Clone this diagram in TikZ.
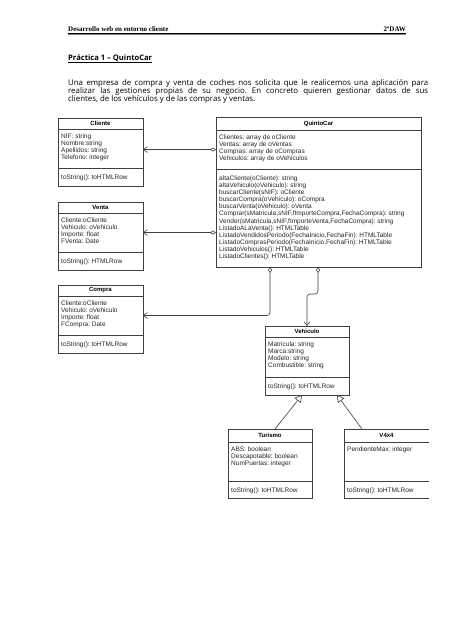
\documentclass[tikz,border=0pt]{standalone}
\usepackage{fontspec}
\setmainfont{Open Sans}
\newfontfamily\umlfont{Liberation Sans}
\newfontfamily\headfont{Liberation Serif}
\usetikzlibrary{positioning,arrows.meta}
\frenchspacing
\tikzset{
  compart/.style={draw=black!75, line width=0.6pt, inner sep=0pt, outer sep=0pt, minimum width=85pt, anchor=north west},
  openbox/.style={compart, draw=none},
  boxline/.style={draw=black!75, line width=0.6pt},
  classname/.style={font=\umlfont\bfseries\fontsize{6}{7}\selectfont},
  members/.style={font=\umlfont\fontsize{6.5}{7.1}\selectfont, text=black!85, align=left, inner sep=0pt, anchor=north west},
  para/.style={anchor=base west, inner sep=0pt, font=\fontsize{7.85}{8}\selectfont},
  assoc/.style={draw=black!75, line width=0.6pt, {Diamond[open,length=6pt,width=4pt]}-{Straight Barb[length=4pt,width=6pt]}},
  inherit/.style={draw=black!75, line width=0.6pt, -{Triangle[open,length=7pt,width=8pt]}},
}
\begin{document}
\begin{tikzpicture}[x=1pt,y=-1pt]
    \path[use as bounding box, fill=white] (0,0) rectangle (474,632);
    \path (68,31) node[anchor=base west, inner sep=0pt, font=\headfont\bfseries\fontsize{7}{8}\selectfont] (curso) {Desarrollo web en entorno cliente};
    \path (406,31) node[anchor=base east, inner sep=0pt, font=\headfont\bfseries\fontsize{7}{8}\selectfont] (grupo) {2ºDAW};
    \draw[black, line width=0.5pt] (68,33.3) -- (406,33.3);
    \draw[gray, line width=1pt] (68,34.7) -- (406,34.7);
    \path (68,60) node[para, font=\bfseries\fontsize{7.6}{8}\selectfont] (titulo) {\underline{Práctica 1 – QuintoCar}};
    \path (68,85.5) node[para] (linea1) {\makebox[360pt][s]{Una empresa de compra y venta de coches nos solicita que le realicemos una aplicación para}};
    \path (68,93.5) node[para] (linea2) {\makebox[360pt][s]{realizar las gestiones propias de su negocio. En concreto quieren gestionar datos de sus}};
    \path (68,101.5) node[para] (linea3) {clientes, de los vehículos y de las compras y ventas.};

    \path (58,118) node[compart, minimum height=11pt, classname] (cliente) {Cliente};
    \node[compart, minimum height=39pt, below=0pt of cliente] (cliente-at) {};
    \node[compart, minimum height=18pt, below=0pt of cliente-at] (cliente-op) {};
    \node[members, below right=4.3pt and 3pt of cliente-at.north west] (cliente-at-txt) {NIF: string\\Nombre:string\\Apellidos: string\\Telefono: integer};
    \node[members, below right=6.5pt and 3pt of cliente-op.north west] (cliente-op-txt) {toString(): toHTMLRow};

    \path (58,202) node[compart, minimum height=11pt, classname] (venta) {Venta};
    \node[compart, minimum height=39pt, below=0pt of venta] (venta-at) {};
    \node[compart, minimum height=18pt, below=0pt of venta-at] (venta-op) {};
    \node[members, below right=4.3pt and 3pt of venta-at.north west] (venta-at-txt) {Cliente:oCliente\\Vehiculo: oVehiculo\\Importe: float\\FVenta: Date};
    \node[members, below right=6.5pt and 3pt of venta-op.north west] (venta-op-txt) {toString(): HTMLRow};

    \path (58,285) node[compart, minimum height=11pt, classname] (compra) {Compra};
    \node[compart, minimum height=39pt, below=0pt of compra] (compra-at) {};
    \node[compart, minimum height=18pt, below=0pt of compra-at] (compra-op) {};
    \node[members, below right=4.3pt and 3pt of compra-at.north west] (compra-at-txt) {Cliente:oCliente\\Vehiculo: oVehiculo\\Importe: float\\FCompra: Date};
    \node[members, below right=6.5pt and 3pt of compra-op.north west] (compra-op-txt) {toString(): toHTMLRow};

    \path (216,117) node[compart, minimum width=205pt, minimum height=13pt, classname] (quintocar) {QuintoCar};
    \node[compart, minimum width=205pt, minimum height=39pt, below=0pt of quintocar] (quintocar-at) {};
    \node[compart, minimum width=205pt, minimum height=98pt, below=0pt of quintocar-at] (quintocar-op) {};
    \node[members, below right=4.3pt and 3pt of quintocar-at.north west] (quintocar-at-txt) {Clientes: array de oCliente\\Ventas: array de oVentas\\Compras: array de oCompras\\Vehiculos: array de oVehiculos};
    \node[members, below right=6.5pt and 3pt of quintocar-op.north west] (quintocar-op-txt) {altaCliente(oCliente): string\\altaVehiculo(oVehiculo): string\\buscarCliente(sNIF): oCliente\\buscarCompra(oVehiculo): oCompra\\buscarVenta(oVehiculo): oVenta\\Comprar(sMatricula,sNIF,fImporteCompra,FechaCompra): string\\Vender(sMatricula,sNIF,fImporteVenta,FechaCompra): string\\ListadoALaVenta(): HTMLTable\\ListadoVendidosPeriodo(FechaInicio,FechaFin): HTMLTable\\ListadoComprasPeriodo(FechaInicio,FechaFin): HTMLTable\\ListadoVehiculos(): HTMLTable\\ListadoClientes(): HTMLTable};

    \path (265,326) node[compart, minimum width=84pt, minimum height=11pt, classname] (vehiculo) {Vehiculo};
    \node[compart, minimum width=84pt, minimum height=40pt, below=0pt of vehiculo] (vehiculo-at) {};
    \node[compart, minimum width=84pt, minimum height=18pt, below=0pt of vehiculo-at] (vehiculo-op) {};
    \node[members, below right=4.3pt and 3pt of vehiculo-at.north west] (vehiculo-at-txt) {Matricula: string\\Marca:string\\Modelo: string\\Combustible: string};
    \node[members, below right=6.5pt and 3pt of vehiculo-op.north west] (vehiculo-op-txt) {toString(): toHTMLRow};

    \path (228,429) node[compart, minimum width=84pt, minimum height=13pt, classname] (turismo) {Turismo};
    \node[compart, minimum width=84pt, minimum height=39pt, below=0pt of turismo] (turismo-at) {};
    \node[compart, minimum width=84pt, minimum height=17pt, below=0pt of turismo-at] (turismo-op) {};
    \node[members, below right=4.3pt and 3pt of turismo-at.north west] (turismo-at-txt) {ABS: boolean\\Descapotable: boolean\\NumPuertas: integer};
    \node[members, below right=6.5pt and 3pt of turismo-op.north west] (turismo-op-txt) {toString(): toHTMLRow};

    \path (344,429) node[openbox, minimum height=13pt, classname] (v4x4) {V4x4};
    \node[openbox, minimum height=39pt, below=0pt of v4x4] (v4x4-at) {};
    \node[openbox, minimum height=17pt, below=0pt of v4x4-at] (v4x4-op) {};
    \draw[boxline] (v4x4.north east) -- (v4x4.north west) -- (v4x4-op.south west) -- (v4x4-op.south east);
    \draw[boxline] (v4x4-at.north west) -- (v4x4-at.north east) (v4x4-op.north west) -- (v4x4-op.north east);
    \node[members, below right=4.3pt and 3pt of v4x4-at.north west] (v4x4-at-txt) {PendienteMax: integer};
    \node[members, below right=6.5pt and 3pt of v4x4-op.north west] (v4x4-op-txt) {toString(): toHTMLRow};

    \draw[assoc] (quintocar-at.west) -- (quintocar-at.west -| cliente-at.east);
    \draw[assoc] (quintocar-op.west |- venta-at.east) -- (venta-at.east);
    \draw[assoc, rounded corners=3pt] ([xshift=54pt]quintocar-op.south west) |- (compra-at.east);
    \draw[assoc, rounded corners=3pt] ([xshift=102pt]quintocar-op.south west) -- ++(0,27) -| (vehiculo.north);
    \draw[inherit] ([xshift=5pt]turismo.north) -- ([xshift=-5pt]vehiculo-op.south);
    \draw[inherit] ([xshift=18pt]v4x4.north west) -- ([xshift=30pt]vehiculo-op.south);
\end{tikzpicture}
\end{document}
